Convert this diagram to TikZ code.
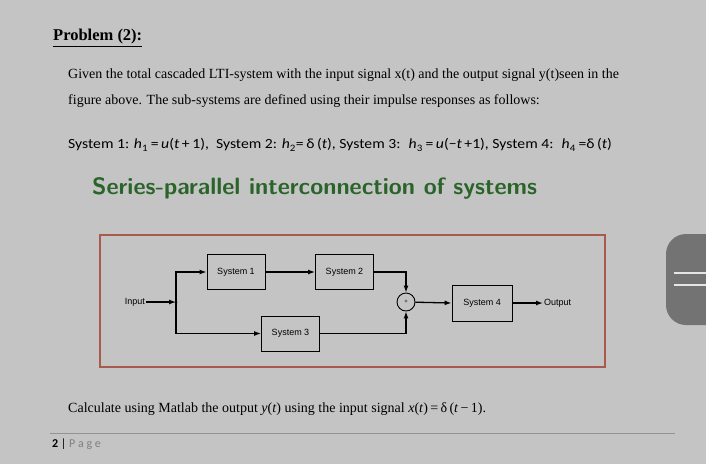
\documentclass[tikz,border=0pt]{standalone}
\usepackage{fontspec}
\setmainfont{Liberation Serif}
\newfontfamily\carfont{Carlito}
\newfontfamily\arl{Liberation Sans}
\usetikzlibrary{arrows.meta}
\definecolor{bg}{HTML}{C4C4C4}
\definecolor{frm}{HTML}{A85A4C}
\definecolor{ttl}{HTML}{2A642A}
\tikzset{
  sys/.style={draw,line width=0.9pt,fill=bg,minimum width=58pt,minimum height=35pt,font=\arl\fontsize{9}{10}\selectfont,inner sep=0},
  wire/.style={line width=1.3pt,-{Latex[length=7pt,width=5pt]}},
  txt/.style={anchor=west,inner sep=0},
}
\begin{document}
\begin{tikzpicture}[x=1pt,y=-1pt]
\fill[bg] (0,0) rectangle (706,464);
\useasboundingbox (0,0) rectangle (706,464);
\node[txt,font=\bfseries\fontsize{16.5}{18}\selectfont] (prob) at (53,38) {\underline{Problem (2):}};
\node[txt,font=\fontsize{14}{16}\selectfont] (p1) at (68,75) {Given the total cascaded LTI-system with the input signal x(t) and the output signal y(t)seen in the};
\node[txt,font=\fontsize{14}{16}\selectfont] (p2) at (68,101) {figure above. The sub-systems are defined using their impulse responses as follows:};
\node[txt,font=\carfont\fontsize{14}{16}\selectfont,xscale=1.12] (sl) at (68,145) {System 1: \textit{h}\textsubscript{1}\,=\,\textit{u}(\textit{t}\,+\,1),\ \ System 2: \textit{h}\textsubscript{2}=\,δ\,(\textit{t}), System 3: \ \textit{h}\textsubscript{3}\,=\,\textit{u}(−\textit{t}\,+1), System 4: \ \textit{h}\textsubscript{4}\,=δ\,(\textit{t})};
\node[txt,font=\sffamily\bfseries\fontsize{23.6}{26}\selectfont,text=ttl] (title) at (92,188) {Series-parallel interconnection of systems};
\draw[frm,line width=2pt] (100,235) rectangle (605,367);
\node[sys] (s1) at (236,272) {System 1};
\node[sys] (s2) at (344.5,272) {System 2};
\node[sys] (s3) at (290.5,333.5) {System 3};
\node[sys,minimum width=60pt,minimum height=36pt] (s4) at (482,303) {System 4};
\node[draw,circle,line width=0.9pt,minimum size=18pt,inner sep=0,font=\arl\fontsize{6}{6}\selectfont] (sum) at (406,302) {+};
\node[font=\arl\fontsize{9}{10}\selectfont,inner sep=1pt,anchor=east] (in) at (146,302) {Input};
\node[font=\arl\fontsize{9}{10}\selectfont,inner sep=1pt,anchor=west] (out) at (543,303) {Output};
\coordinate (sp) at (176,302);
\fill (sp) circle (1.5pt);
\draw[wire] (in.east) -- (sp);
\draw[wire] (sp) |- (s1.west);
\draw[wire] (sp) |- (s3.west);
\draw[wire] (s1) -- (s2);
\draw[wire] (s2.east) -| (sum.north);
\draw[wire] (s3.east) -| (sum.south);
\draw[wire] (sum) -- (s4.west);
\draw[wire] (s4) -- (out.west);
\node[txt,font=\fontsize{14}{16}\selectfont] (calc) at (68,409) {Calculate using Matlab the output \textit{y}(\textit{t}) using the input signal \textit{x}(\textit{t})\,=\,δ\,(\textit{t}\,−\,1).};
\draw[gray!85,line width=0.6pt] (50,433) -- (675,433);
\node[txt,font=\carfont\fontsize{12}{13}\selectfont] (pg) at (52,444) {\textbf{2} | \textcolor{black!50}{P a g e}};
\fill[black!55,rounded corners=20pt] (666,234) rectangle (730,325);
\draw[white!80!gray,line width=1.5pt] (674,273) -- (706,273) (674,285) -- (706,285);
\end{tikzpicture}
\end{document}
